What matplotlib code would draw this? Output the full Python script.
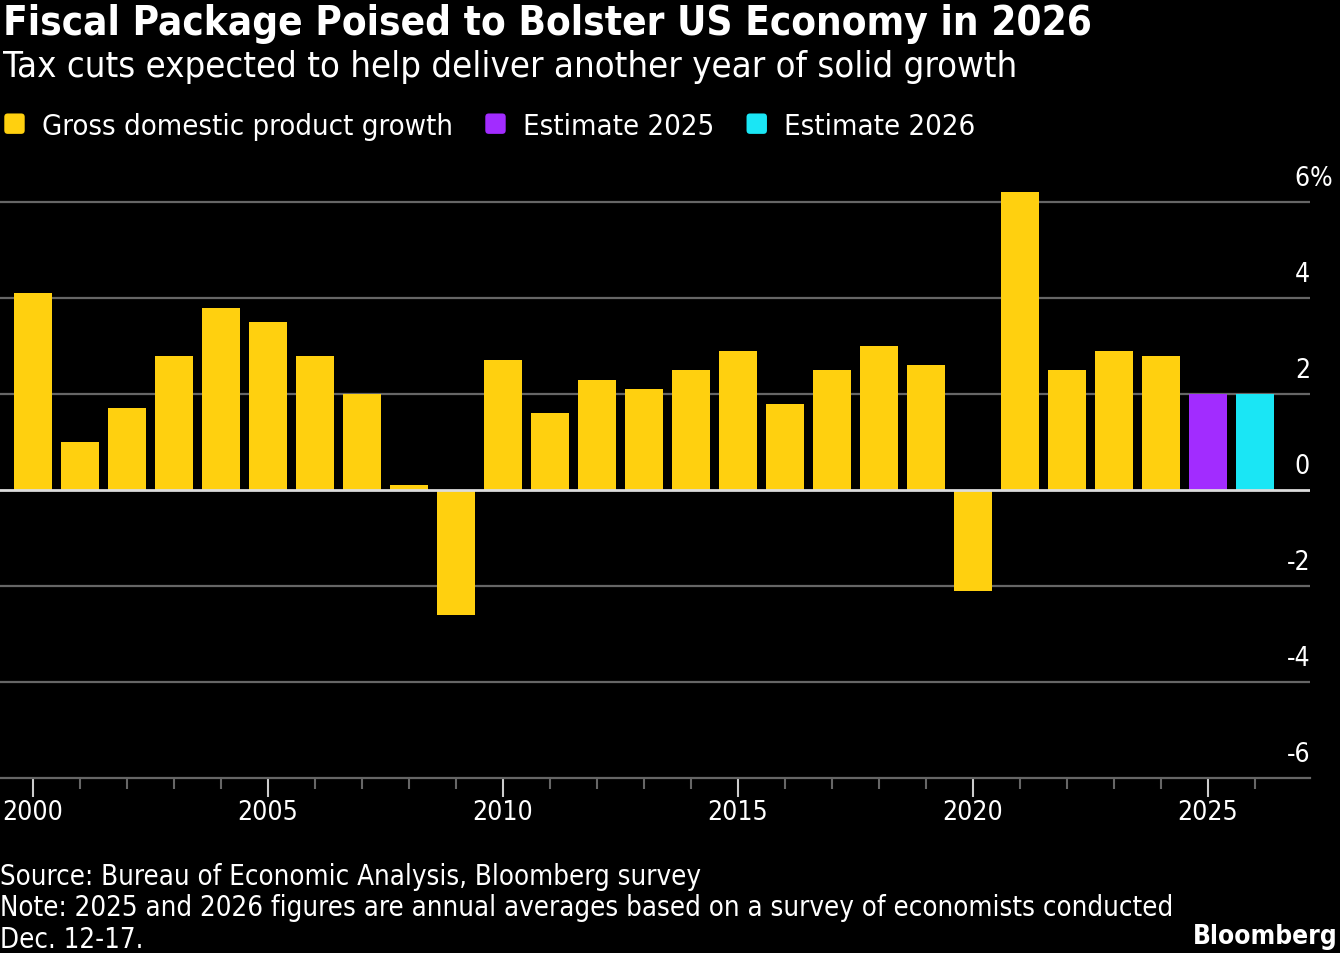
import matplotlib
matplotlib.use('Agg')
import matplotlib.pyplot as plt
from matplotlib.patches import Patch, FancyBboxPatch
from matplotlib.legend_handler import HandlerPatch
from matplotlib.transforms import offset_copy

plt.rcParams['font.family'] = 'DejaVu Sans'
plt.rcParams['font.stretch'] = 'condensed'

BG = '#000000'
YELLOW = '#FFD00F'
PURPLE = '#A22CFF'
CYAN = '#1AE6F5'
GRID = '#666666'

years = list(range(2000, 2025))
gdp = [4.1, 1.0, 1.7, 2.8, 3.8, 3.5, 2.8, 2.0, 0.1, -2.6,
       2.7, 1.6, 2.3, 2.1, 2.5, 2.9, 1.8, 2.5, 3.0, 2.6,
       -2.1, 6.2, 2.5, 2.9, 2.8]
est_years = [2025, 2026]
est = [2.0, 2.0]
yticks = [-6, -4, -2, 0, 2, 4, 6]
xticks = [2000, 2005, 2010, 2015, 2020, 2025]


class RoundHandler(HandlerPatch):
    def create_artists(self, legend, orig_handle, xdescent, ydescent,
                       width, height, fontsize, trans):
        p = FancyBboxPatch((-xdescent, -ydescent), width, height,
                           boxstyle='round,pad=0,rounding_size=2.5',
                           facecolor=orig_handle.get_facecolor(),
                           lw=0, transform=trans)
        return [p]


fig = plt.figure(figsize=(13.4, 9.54), dpi=100, facecolor=BG)
ax = fig.add_axes([0, 175 / 954, 1310 / 1340, 600 / 954])
ax.set_facecolor(BG)

ax.bar(years, gdp, width=0.8, color=YELLOW, zorder=3)
ax.bar(est_years[0], est[0], width=0.8, color=PURPLE, zorder=3)
ax.bar(est_years[1], est[1], width=0.8, color=CYAN, zorder=3)

ax.set_xlim(1999.3, 2027.17)
ax.set_ylim(-6, 6.5)

for v in yticks:
    if v == 0:
        ax.axhline(v, color='#DDDDDD', lw=2, zorder=4)
    elif v != -6:
        ax.axhline(v, color=GRID, lw=1.6, zorder=1)

for s in ['top', 'right', 'left']:
    ax.spines[s].set_visible(False)
ax.spines['bottom'].set_color(GRID)
ax.spines['bottom'].set_linewidth(1.6)

ax.set_yticks([])
ax.set_xticks(xticks)
ax.set_xticks(range(2000, 2027), minor=True)
ax.tick_params(axis='x', which='major', length=14, width=1.5, color='#CCCCCC',
               labelcolor='white', labelsize=19, pad=1)
ax.tick_params(axis='x', which='minor', length=8, width=1.5, color=GRID)

trans = offset_copy(ax.get_yaxis_transform(), fig=fig, x=0, y=8, units='points')
for v in yticks:
    ax.text(1.0, v, str(v), transform=trans, ha='right', va='bottom',
            color='white', fontsize=19, clip_on=False)
ax.text(1.0, 6, '%', transform=trans, ha='left', va='bottom',
        color='white', fontsize=19, clip_on=False)

fig.text(0.002, 0.975, 'Fiscal Package Poised to Bolster US Economy in 2026',
         color='white', fontsize=29, fontweight='bold', va='center', ha='left')
fig.text(0.002, 0.930, 'Tax cuts expected to help deliver another year of solid growth',
         color='white', fontsize=26.2, va='center', ha='left')

handles = [Patch(facecolor=YELLOW), Patch(facecolor=PURPLE), Patch(facecolor=CYAN)]
labels = ['Gross domestic product growth', 'Estimate 2025', 'Estimate 2026']
fig.legend(handles, labels, loc='center left', bbox_to_anchor=(0.0032, 0.867),
           ncol=3, frameon=False, fontsize=21, labelcolor='white',
           handlelength=0.7, handleheight=0.7, handletextpad=0.58,
           columnspacing=1.12, borderaxespad=0, borderpad=0,
           handler_map={Patch: RoundHandler()})

fig.text(0.0, 0.081, 'Source: Bureau of Economic Analysis, Bloomberg survey',
         color='white', fontsize=19.8, va='center', ha='left')
fig.text(0.0, 0.048, 'Note: 2025 and 2026 figures are annual averages based on a survey of economists conducted',
         color='white', fontsize=19.8, va='center', ha='left')
fig.text(0.0, 0.015, 'Dec. 12-17.',
         color='white', fontsize=19.8, va='center', ha='left')
fig.text(0.998, 0.018, 'Bloomberg', color='white', fontsize=18.9,
         fontweight='bold', va='center', ha='right')

fig.savefig('out.png', dpi=100, facecolor=BG)
